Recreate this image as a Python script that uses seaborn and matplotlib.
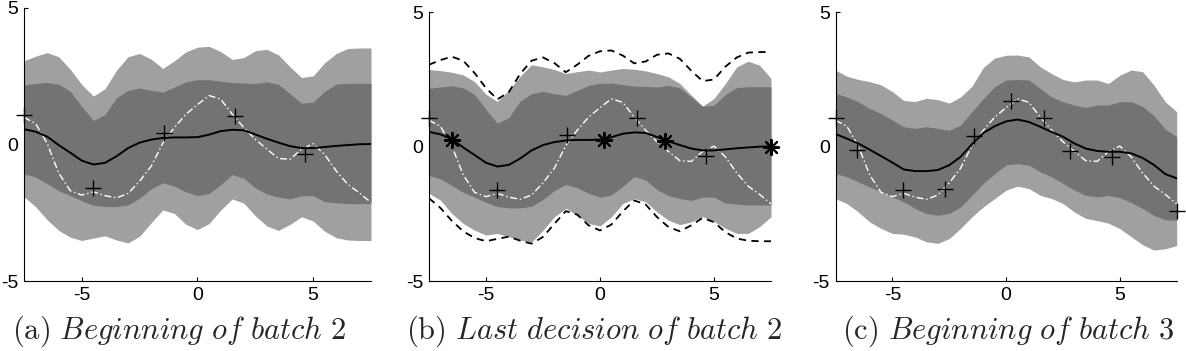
import matplotlib
matplotlib.use("Agg")
import matplotlib.pyplot as plt
import seaborn as sns
import pandas as pd

# ---------------- data ----------------
x_grid = [-7.5, -7.0, -6.5, -6.0, -5.5, -5.0, -4.5, -4.0, -3.5, -3.0, -2.5, -2.0,
          -1.5, -1.0, -0.5, 0.0, 0.5, 1.0, 1.5, 2.0, 2.5, 3.0, 3.5, 4.0, 4.5, 5.0,
          5.5, 6.0, 6.5, 7.0, 7.5]

true_f = [0.98, 0.76, 0.03, -1.05, -1.70, -1.86, -1.74, -1.88, -1.96, -1.80, -1.35, -0.80,
          0.04, 0.61, 1.10, 1.45, 1.78, 1.65, 1.10, 0.61, 0.18, -0.18, -0.52, -0.55, -0.18,
          0.02, -0.38, -0.98, -1.47, -1.78, -2.13]

# batch 2 posterior (panels a and b)
mean_b2 = [0.55, 0.46, 0.28, -0.03, -0.31, -0.60, -0.74, -0.68, -0.44, -0.14, 0.06, 0.17,
           0.23, 0.25, 0.25, 0.26, 0.35, 0.48, 0.53, 0.51, 0.36, 0.20, 0.06, -0.07, -0.14,
           -0.14, -0.10, -0.06, -0.03, 0.00, 0.01]
inner_up_b2 = [2.17, 2.22, 2.26, 2.19, 1.94, 1.38, 0.87, 1.08, 1.70, 1.97, 2.06, 1.97,
               1.91, 2.09, 2.28, 2.36, 2.36, 2.31, 2.25, 2.24, 2.22, 2.28, 2.19, 1.85, 1.50,
               1.54, 1.94, 2.20, 2.23, 2.23, 2.23]
inner_lo_b2 = [-1.08, -1.20, -1.44, -1.70, -1.88, -2.07, -2.23, -2.28, -2.28, -2.22, -1.97, -1.63,
               -1.41, -1.53, -1.74, -1.88, -1.80, -1.48, -1.11, -1.24, -1.60, -1.82, -1.93, -2.00,
               -1.88, -1.88, -2.10, -2.14, -2.17, -2.17, -2.17]
outer_up_a = [3.05, 3.22, 3.35, 3.20, 2.74, 2.18, 1.76, 2.03, 2.71, 3.20, 3.32, 3.11,
              2.77, 3.05, 3.38, 3.55, 3.58, 3.39, 3.10, 3.17, 3.42, 3.47, 3.27, 2.83, 2.44,
              2.50, 2.98, 3.32, 3.50, 3.52, 3.52]
outer_lo_a = [-1.92, -2.28, -2.76, -3.15, -3.40, -3.52, -3.43, -3.35, -3.50, -3.61, -3.36, -2.87,
              -2.40, -2.53, -2.93, -3.12, -2.90, -2.41, -2.00, -2.15, -2.62, -2.99, -3.15, -2.93,
              -2.65, -2.81, -3.18, -3.42, -3.50, -3.52, -3.52]
outer_up_b = [2.87, 2.83, 2.77, 2.67, 2.42, 1.95, 1.68, 2.10, 2.62, 3.05, 2.97, 2.87,
              2.72, 2.79, 2.85, 2.78, 2.85, 2.91, 2.88, 2.82, 2.72, 2.60, 2.35, 1.92, 1.51,
              1.79, 2.35, 2.97, 3.18, 3.03, 2.54]
outer_lo_b = [-1.74, -1.99, -2.49, -2.86, -3.11, -3.29, -3.23, -3.35, -3.48, -3.55, -3.11, -2.61,
              -2.30, -2.55, -2.86, -2.95, -2.61, -2.12, -1.93, -2.05, -2.43, -2.74, -2.90, -2.80,
              -2.60, -2.78, -3.04, -3.23, -3.23, -2.98, -2.61]

# batch 3 posterior (panel c)
mean_c = [0.47, 0.30, 0.12, -0.11, -0.35, -0.59, -0.85, -0.91, -0.91, -0.87, -0.69, -0.38,
          0.09, 0.51, 0.76, 0.94, 1.01, 0.92, 0.74, 0.55, 0.37, 0.12, -0.07, -0.16, -0.19,
          -0.19, -0.25, -0.42, -0.68, -1.02, -1.18]
inner_up_c = [1.98, 1.85, 1.67, 1.42, 1.23, 0.99, 0.74, 0.68, 0.74, 0.68, 0.61, 0.80,
              1.30, 1.79, 2.23, 2.48, 2.50, 2.48, 2.17, 1.85, 1.67, 1.55, 1.46, 1.55, 1.55,
              1.67, 1.67, 1.50, 1.15, 0.65, 0.37]
inner_lo_c = [-1.00, -1.12, -1.31, -1.50, -1.68, -1.87, -2.05, -2.30, -2.49, -2.55, -2.49, -2.24,
              -1.81, -1.37, -1.00, -0.68, -0.63, -0.69, -0.94, -1.12, -1.37, -1.62, -1.81, -1.87,
              -1.82, -1.90, -2.08, -2.30, -2.56, -2.72, -2.74]
outer_up_c = [2.85, 2.62, 2.50, 2.42, 2.30, 2.05, 1.72, 1.68, 1.80, 1.75, 1.62, 1.85,
              2.25, 2.95, 3.30, 3.40, 3.41, 3.34, 2.97, 2.72, 2.50, 2.41, 2.48, 2.48, 2.35,
              2.66, 2.85, 2.79, 2.29, 1.67, 1.30]
outer_lo_c = [-1.93, -2.12, -2.43, -2.80, -3.04, -3.23, -3.26, -3.36, -3.54, -3.60, -3.42, -3.04,
              -2.61, -2.24, -1.93, -1.62, -1.47, -1.56, -1.81, -1.93, -2.12, -2.43, -2.67, -2.75,
              -2.85, -3.05, -3.35, -3.65, -3.85, -3.80, -3.68]

# observations
obs_b2_x = [-7.5, -4.5, -1.45, 1.64, 4.64]
obs_b2_y = [1.07, -1.60, 0.42, 1.05, -0.34]
sel_b2_x = [-6.5, 0.18, 2.84, 7.49]
sel_b2_y = [0.24, 0.24, 0.21, -0.01]
obs_b3_x = [-7.5, -6.55, -4.55, -2.67, -1.42, 0.22, 1.67, 2.82, 4.65, 7.5]
obs_b3_y = [1.05, -0.13, -1.62, -1.56, 0.39, 1.69, 1.05, -0.16, -0.38, -2.40]

captions = [r"$\mathrm{(a)}\ \mathit{Beginning\ of\ batch\ 2}$",
            r"$\mathrm{(b)}\ \mathit{Last\ decision\ of\ batch\ 2}$",
            r"$\mathrm{(c)}\ \mathit{Beginning\ of\ batch\ 3}$"]
ticks = [-5, 0, 5]

# ---------------- style ----------------
sns.set_style("white")
plt.rcParams.update({
    "font.family": ["Liberation Sans", "DejaVu Sans"],
    "mathtext.fontset": "cm",
    "axes.unicode_minus": False,
    "xtick.bottom": True, "ytick.left": True,
    "xtick.direction": "in", "ytick.direction": "in",
    "xtick.major.size": 3, "ytick.major.size": 3,
    "xtick.major.width": 0.8, "ytick.major.width": 0.8,
    "xtick.color": "black", "ytick.color": "black",
    "axes.edgecolor": "black", "axes.linewidth": 0.8,
})

LIGHT = "#a0a0a0"
DARK = "#737373"

W, H = 1186, 351
fig = plt.figure(figsize=(W / 100, H / 100), dpi=100)

positions = [
    (24 / W, 1 - 281 / H, (371 - 24) / W, (281 - 7.5) / H),
    (429 / W, 1 - 281 / H, (771 - 429) / W, (281 - 12.3) / H),
    (835.5 / W, 1 - 281 / H, (1176.7 - 835.5) / W, (281 - 12.3) / H),
]
cap_x = [179 / W, 594 / W, 1008 / W]

panels = [
    dict(mean=mean_b2, iu=inner_up_b2, il=inner_lo_b2, ou=outer_up_a, ol=outer_lo_a,
         dashed=False, ox=obs_b2_x, oy=obs_b2_y, star=False),
    dict(mean=mean_b2, iu=inner_up_b2, il=inner_lo_b2, ou=outer_up_b, ol=outer_lo_b,
         dashed=True, ox=obs_b2_x, oy=obs_b2_y, star=True),
    dict(mean=mean_c, iu=inner_up_c, il=inner_lo_c, ou=outer_up_c, ol=outer_lo_c,
         dashed=False, ox=obs_b3_x, oy=obs_b3_y, star=False),
]

for i, p in enumerate(panels):
    ax = fig.add_axes(positions[i])
    ax.fill_between(x_grid, p["ol"], p["ou"], color=LIGHT, lw=0, zorder=1)
    ax.fill_between(x_grid, p["il"], p["iu"], color=DARK, lw=0, zorder=2)
    if p["dashed"]:
        sns.lineplot(x=x_grid, y=outer_up_a, ax=ax, color="black", lw=1.3,
                     linestyle=(0, (4, 3)), zorder=3)
        sns.lineplot(x=x_grid, y=outer_lo_a, ax=ax, color="black", lw=1.3,
                     linestyle=(0, (4, 3)), zorder=3)
    sns.lineplot(x=x_grid, y=true_f, ax=ax, color="white", lw=1.0,
                 linestyle=(0, (5, 2, 1, 2)), zorder=4)
    sns.lineplot(x=x_grid, y=p["mean"], ax=ax, color="black", lw=1.4, zorder=5)
    sns.scatterplot(x=p["ox"], y=p["oy"], ax=ax, marker="+", s=130, color="black",
                    linewidth=1.0, zorder=6, clip_on=False)
    if p["star"]:
        sns.scatterplot(x=sel_b2_x, y=sel_b2_y, ax=ax, marker=(8, 2, 0), s=120,
                        color="black", linewidth=1.5, zorder=7, clip_on=False)
    ax.set_xlim(-7.5, 7.5)
    ax.set_ylim(-5, 5)
    ax.set_xticks(ticks)
    ax.set_yticks(ticks)
    ax.tick_params(labelsize=14, pad=4)
    sns.despine(ax=ax)
    fig.text(cap_x[i], 1 - 331 / H, captions[i], fontsize=22, ha="center", va="center")

fig.savefig("out.png", dpi=100)
